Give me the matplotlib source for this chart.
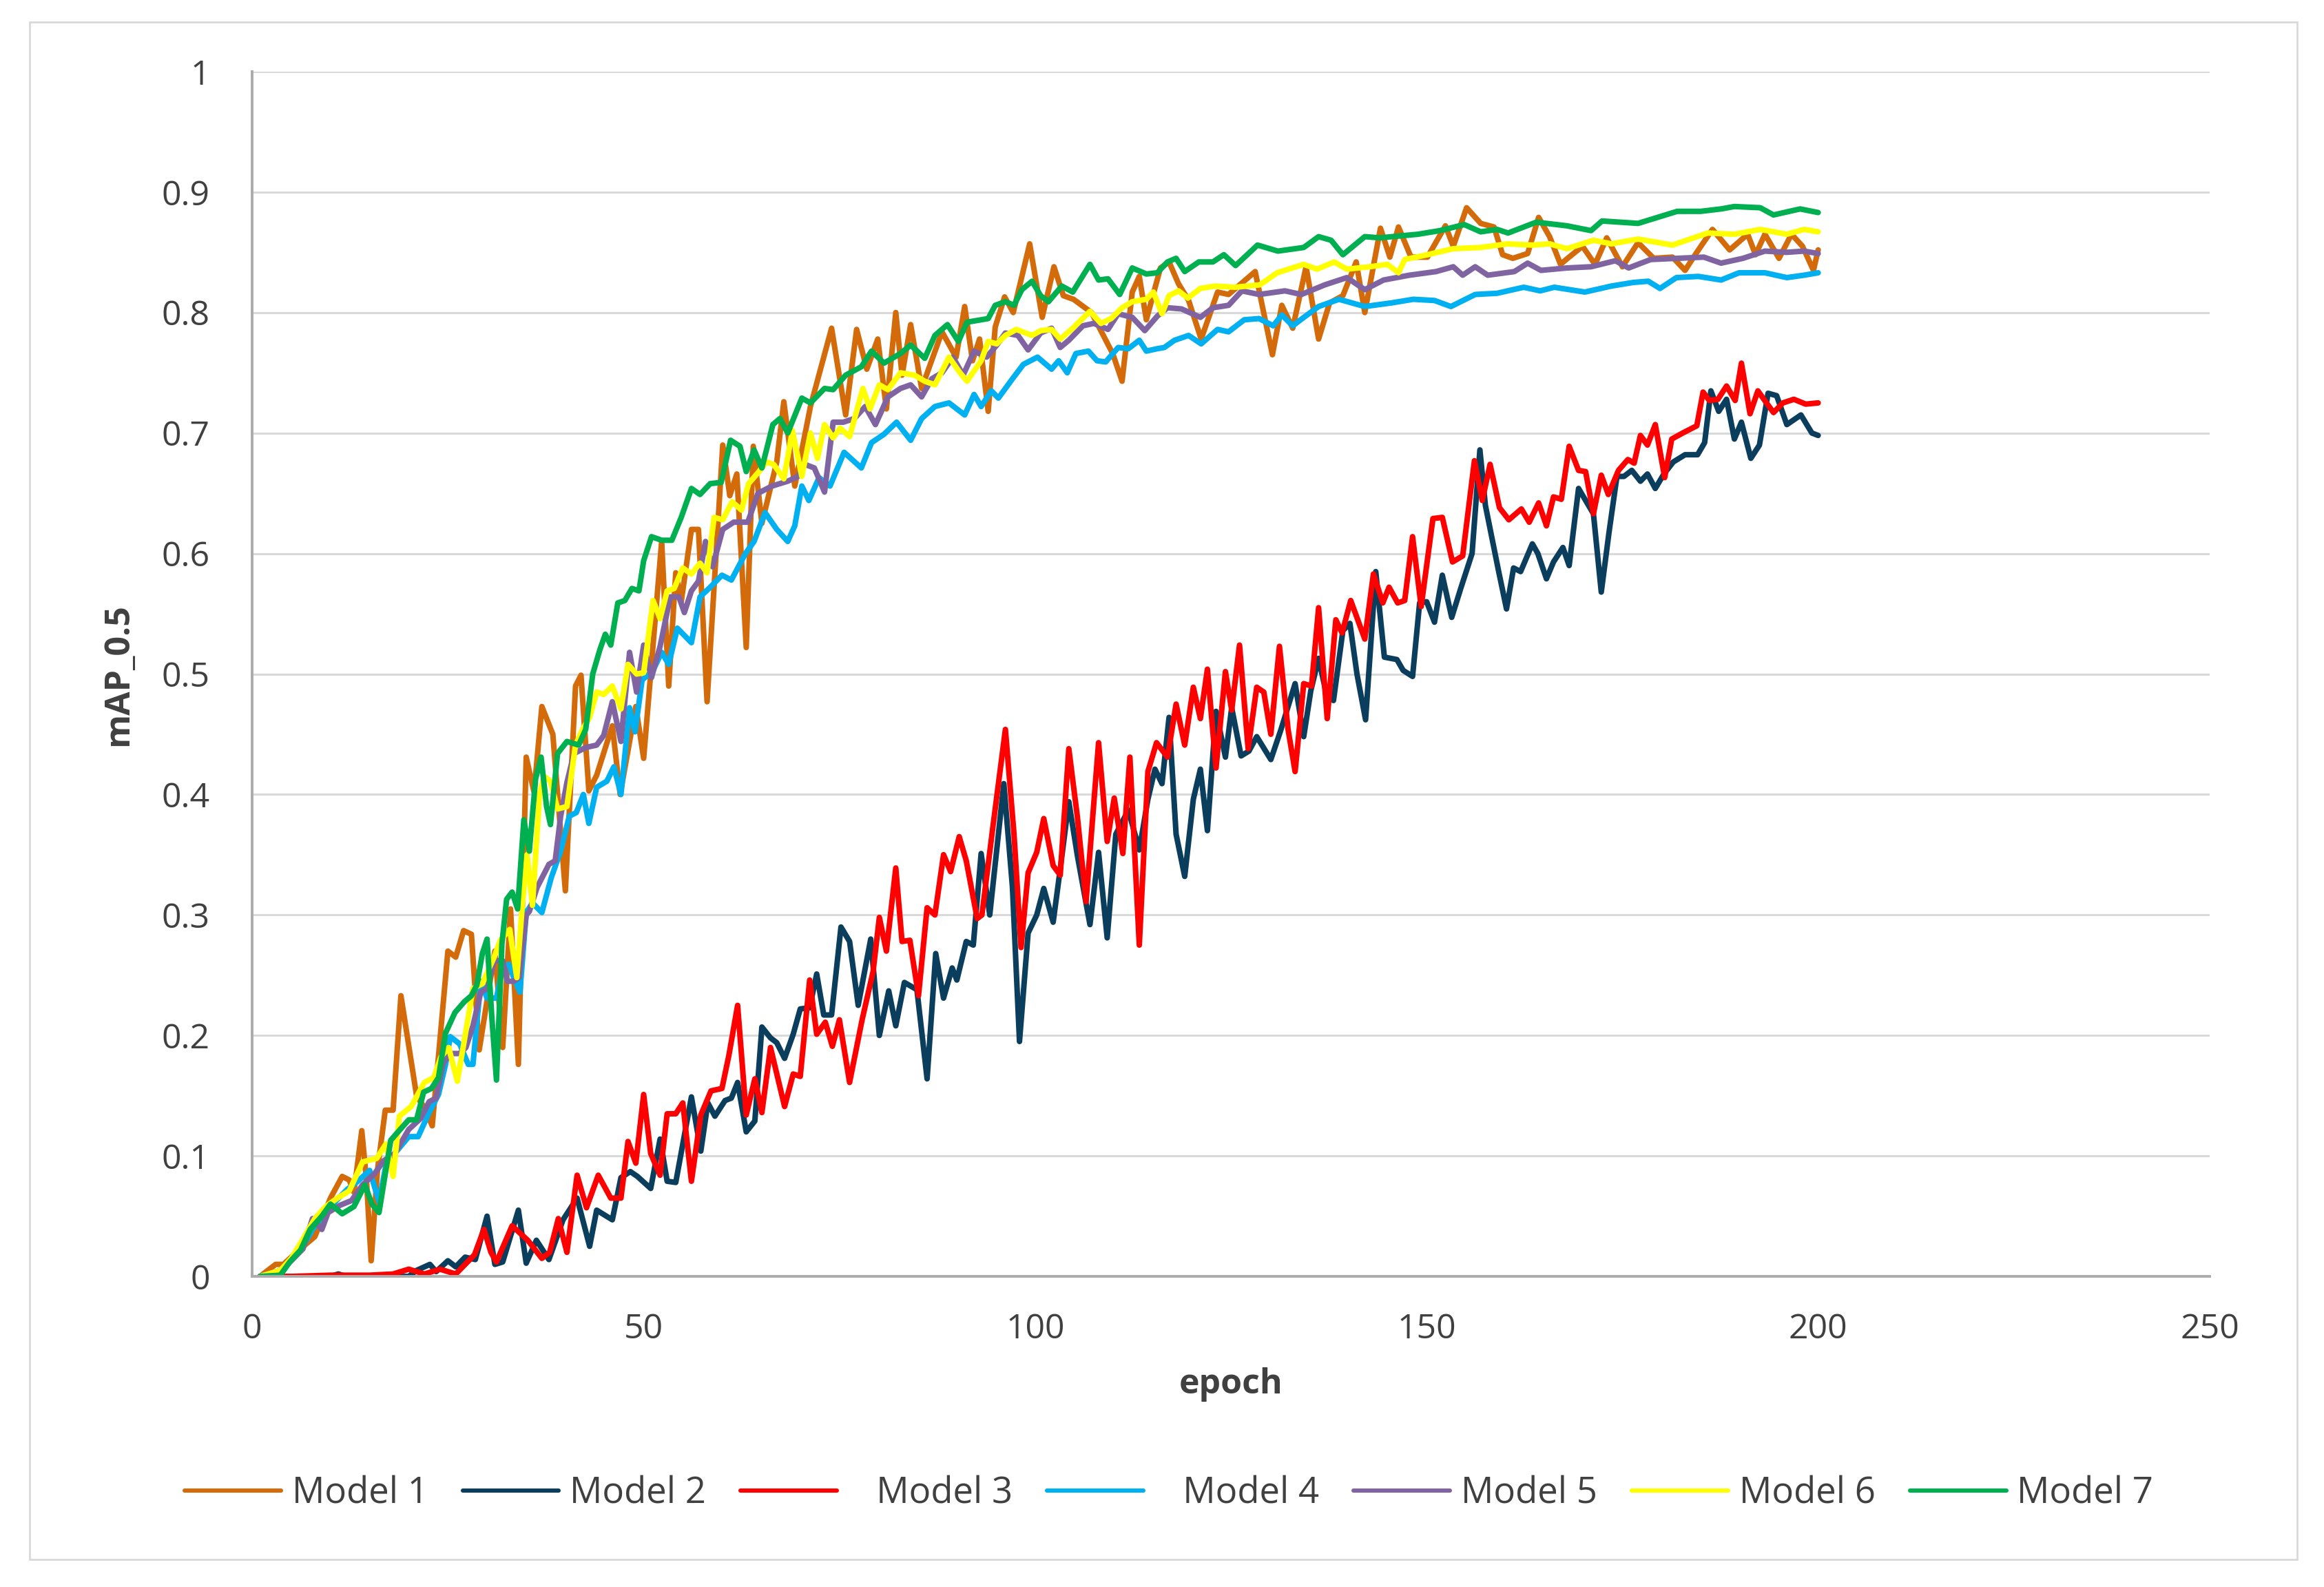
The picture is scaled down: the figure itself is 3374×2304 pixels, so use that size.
import matplotlib
matplotlib.use("Agg")
import matplotlib.pyplot as plt
from matplotlib.patches import Rectangle

# mAP_0.5 per epoch as (epoch, value) pairs
model1 = [(1, 0.0), (3, 0.01), (4, 0.01), (5, 0.016), (6, 0.022), (8, 0.033), (10, 0.065), (11.5, 0.083),
          (12.4, 0.08), (13, 0.07), (14, 0.121), (14.6, 0.08), (15.2, 0.013), (16, 0.088), (17, 0.138),
          (18, 0.138), (19, 0.233), (21, 0.15), (22, 0.14), (23, 0.125), (25, 0.27), (26, 0.265), (27, 0.287),
          (28, 0.284), (29, 0.188), (31, 0.27), (32, 0.19), (33, 0.305), (34, 0.176), (35, 0.431), (36, 0.402),
          (37, 0.473), (38.4, 0.45), (40, 0.32), (41.3, 0.49), (42, 0.499), (43, 0.403), (44, 0.416),
          (46, 0.457), (47, 0.40), (49, 0.473), (50, 0.43), (52.3, 0.61), (53.2, 0.49), (54.1, 0.584),
          (54.8, 0.56), (56.1, 0.62), (57, 0.62), (58.1, 0.477), (60.1, 0.69), (61, 0.648), (61.9, 0.666),
          (63.1, 0.522), (64, 0.689), (65.1, 0.625), (67, 0.676), (67.9, 0.726), (69.3, 0.656), (71.3, 0.722),
          (74, 0.787), (75.8, 0.715), (77.2, 0.786), (78.5, 0.753), (79.9, 0.778), (81, 0.72), (82.2, 0.80),
          (83, 0.748), (84.1, 0.79), (85.5, 0.737), (88.1, 0.784), (89.9, 0.763), (91, 0.805), (92, 0.76),
          (92.9, 0.778), (94, 0.718), (94.9, 0.788), (96.1, 0.813), (97.2, 0.80), (99.3, 0.857), (100.9, 0.796),
          (102.4, 0.838), (103.6, 0.814), (104.9, 0.811), (107.2, 0.80), (109.9, 0.766), (111.1, 0.743),
          (112.4, 0.817), (113.3, 0.83), (114.2, 0.794), (116, 0.837), (117.1, 0.842), (118.3, 0.824),
          (119.6, 0.81), (121.2, 0.778), (123.3, 0.817), (124.7, 0.815), (128.1, 0.834), (130.3, 0.765),
          (131.5, 0.806), (132.9, 0.787), (134.6, 0.838), (136.2, 0.778), (137.6, 0.808), (139.3, 0.814),
          (141, 0.842), (142.1, 0.80), (144.1, 0.87), (145.3, 0.846), (146.4, 0.871), (148, 0.846),
          (150.1, 0.846), (152.4, 0.872), (153.4, 0.855), (155.1, 0.887), (156.9, 0.874), (158.6, 0.871),
          (159.7, 0.848), (161, 0.845), (162.9, 0.849), (164.3, 0.879), (165.7, 0.863), (167.1, 0.84),
          (168, 0.845), (169.9, 0.855), (171.5, 0.84), (173, 0.862), (175, 0.838), (177, 0.858), (179, 0.845),
          (181.4, 0.846), (183, 0.835), (184.5, 0.85), (186.5, 0.869), (188.7, 0.852), (191, 0.865),
          (192, 0.848), (193.2, 0.865), (195, 0.845), (196.6, 0.865), (198, 0.855), (199.4, 0.835), (200, 0.852)]

model2 = [(1, 0.0), (10, 0.0), (11, 0.002), (12, 0.0), (20, 0.0), (21, 0.005), (22.7, 0.01), (23.5, 0.004),
          (25, 0.013), (26, 0.008), (27.2, 0.016), (28.5, 0.014), (30, 0.05), (31, 0.01), (32, 0.012),
          (34, 0.055), (35, 0.011), (36.3, 0.03), (37.9, 0.014), (39.7, 0.047), (41.5, 0.065), (43.1, 0.025),
          (44, 0.055), (46, 0.047), (47.1, 0.082), (48.3, 0.087), (49.2, 0.083), (50.9, 0.073), (52.1, 0.114),
          (53, 0.079), (54.1, 0.078), (56.1, 0.149), (57.3, 0.104), (58.2, 0.144), (59.1, 0.133), (60.4, 0.146),
          (61.2, 0.148), (62, 0.161), (63.1, 0.12), (64.2, 0.129), (65.1, 0.207), (66.2, 0.198), (67, 0.194),
          (68, 0.181), (69.1, 0.201), (70, 0.222), (71.2, 0.223), (72.1, 0.251), (73, 0.217), (74, 0.217),
          (75.2, 0.29), (76.3, 0.278), (77.4, 0.225), (79, 0.28), (80.1, 0.20), (81.3, 0.237), (82.2, 0.208),
          (83.3, 0.244), (84.9, 0.238), (86.2, 0.164), (87.3, 0.268), (88.3, 0.231), (89.4, 0.256), (90, 0.246),
          (91.2, 0.278), (92.1, 0.275), (93.1, 0.351), (94.2, 0.30), (96, 0.409), (97.1, 0.323), (98, 0.195),
          (99.1, 0.285), (100.2, 0.30), (101.1, 0.322), (102.3, 0.294), (103.2, 0.338), (104.3, 0.394),
          (105.4, 0.349), (107, 0.292), (108.1, 0.352), (109.2, 0.281), (110.3, 0.367), (111.9, 0.387),
          (113.3, 0.354), (114.4, 0.396), (115.3, 0.421), (116.2, 0.409), (117.1, 0.464), (118, 0.367),
          (119.1, 0.332), (120.2, 0.396), (121.1, 0.421), (122, 0.37), (123.1, 0.469), (124.3, 0.431),
          (125.1, 0.472), (126.3, 0.432), (127.3, 0.436), (128.3, 0.448), (130.1, 0.429), (131.4, 0.454),
          (133.2, 0.492), (134.3, 0.448), (135.2, 0.486), (136.2, 0.513), (137.1, 0.486), (138.1, 0.478),
          (139.3, 0.536), (140.2, 0.542), (141.1, 0.50), (142.2, 0.462), (143.5, 0.585), (144.6, 0.514),
          (146.2, 0.512), (147, 0.503), (148.2, 0.498), (149.1, 0.559), (150, 0.56), (151, 0.543), (152, 0.582),
          (153.2, 0.547), (154.4, 0.572), (155.8, 0.60), (156.8, 0.686), (157.5, 0.64), (159.2, 0.585),
          (160.2, 0.554), (161.1, 0.588), (162, 0.585), (163.5, 0.608), (164.2, 0.60), (165.3, 0.579),
          (166.2, 0.593), (167.4, 0.605), (168.2, 0.59), (169.4, 0.654), (170.3, 0.644), (171.3, 0.633),
          (172.3, 0.568), (173.3, 0.618), (174.3, 0.664), (175.2, 0.664), (176.2, 0.669), (177.3, 0.66),
          (178.2, 0.666), (179.2, 0.654), (180.3, 0.666), (181.5, 0.676), (183, 0.682), (184.6, 0.682),
          (185.5, 0.692), (186.3, 0.735), (187.3, 0.718), (188.3, 0.728), (189.3, 0.695), (190.2, 0.709),
          (191.4, 0.679), (192.5, 0.69), (193.6, 0.733), (194.7, 0.731), (196, 0.707), (197.8, 0.715),
          (199.2, 0.70), (200, 0.698)]

model3 = [(1, 0.0), (5, 0.0), (10, 0.001), (15, 0.001), (18, 0.002), (20, 0.006), (22, 0.002), (24, 0.006),
          (26, 0.002), (27.2, 0.01), (28.4, 0.018), (29.6, 0.039), (30.5, 0.02), (31.2, 0.012), (33.2, 0.042),
          (35.2, 0.03), (37, 0.015), (38, 0.02), (39.1, 0.048), (40.2, 0.02), (41.5, 0.084), (42.7, 0.057),
          (44.2, 0.084), (45.8, 0.065), (47.1, 0.065), (48, 0.112), (49, 0.094), (50, 0.151), (50.9, 0.102),
          (52.1, 0.084), (53, 0.135), (54.1, 0.135), (55, 0.144), (56.1, 0.079), (57.3, 0.134), (58.6, 0.154),
          (60, 0.156), (60.9, 0.184), (62, 0.225), (63.1, 0.134), (64.2, 0.164), (65.1, 0.136), (66.2, 0.19),
          (68, 0.141), (69.1, 0.168), (70, 0.166), (71.2, 0.246), (72.1, 0.201), (73.2, 0.211), (74.1, 0.191),
          (75, 0.213), (76.3, 0.161), (77.9, 0.213), (79.3, 0.253), (80.1, 0.298), (81, 0.27), (82.2, 0.339),
          (83, 0.278), (84, 0.279), (85.1, 0.233), (86.2, 0.306), (87.2, 0.30), (88.3, 0.35), (89.2, 0.336),
          (90.3, 0.365), (91.2, 0.345), (92.6, 0.297), (93.2, 0.30), (94.6, 0.373), (96.2, 0.454),
          (97.3, 0.367), (98.2, 0.273), (99.1, 0.335), (100.2, 0.352), (101.1, 0.38), (102.3, 0.341),
          (103.2, 0.333), (104.3, 0.438), (105.4, 0.381), (106.5, 0.311), (108.1, 0.443), (109.2, 0.361),
          (110.1, 0.397), (111.2, 0.351), (112.1, 0.431), (113.3, 0.275), (114.4, 0.419), (115.5, 0.443),
          (116.9, 0.431), (118, 0.475), (119.1, 0.441), (120.2, 0.489), (121.1, 0.463), (122, 0.504),
          (123.1, 0.422), (124.3, 0.502), (125.1, 0.47), (126.1, 0.524), (127.2, 0.438), (128.3, 0.489),
          (129.2, 0.485), (130.1, 0.45), (131.2, 0.523), (132.3, 0.454), (133.2, 0.419), (134.3, 0.492),
          (135.3, 0.49), (136.2, 0.555), (137.3, 0.463), (138.4, 0.545), (139.2, 0.534), (140.3, 0.561),
          (142.1, 0.529), (143.2, 0.583), (144.4, 0.559), (145.2, 0.572), (146.3, 0.559), (147.2, 0.561),
          (148.2, 0.614), (149.3, 0.556), (150.8, 0.629), (152, 0.63), (153.3, 0.593), (154.6, 0.598),
          (156.1, 0.677), (157.1, 0.644), (158.1, 0.674), (159.3, 0.638), (160.5, 0.628), (162.1, 0.637),
          (163.1, 0.626), (164.3, 0.642), (165.3, 0.623), (166.2, 0.647), (167.2, 0.645), (168.2, 0.689),
          (169.4, 0.669), (170.3, 0.668), (171.3, 0.633), (172.3, 0.665), (173.2, 0.649), (174.5, 0.669),
          (175.7, 0.678), (176.5, 0.675), (177.3, 0.698), (178.2, 0.69), (179.2, 0.707), (180.4, 0.663),
          (181.3, 0.695), (182.7, 0.70), (184.5, 0.706), (185.3, 0.734), (186.1, 0.727), (187.2, 0.728),
          (188.3, 0.739), (189.4, 0.727), (190.2, 0.758), (191.3, 0.716), (192.3, 0.735), (193.4, 0.725),
          (194.3, 0.717), (195.5, 0.725), (196.9, 0.728), (198.4, 0.724), (200, 0.725)]

model4 = [(1, 0.0), (3.6, 0.005), (5.3, 0.016), (6.5, 0.025), (7.7, 0.039), (9.4, 0.053), (10.6, 0.062),
          (12.1, 0.072), (13.5, 0.079), (15, 0.088), (16.2, 0.062), (17.1, 0.093), (18.2, 0.102), (20, 0.116),
          (21.2, 0.116), (22.6, 0.136), (23.8, 0.151), (24.7, 0.176), (25.3, 0.199), (26.5, 0.193),
          (27.6, 0.176), (28.2, 0.176), (29.2, 0.245), (30, 0.231), (31.2, 0.231), (32, 0.257), (32.8, 0.259),
          (33.4, 0.248), (34.2, 0.236), (35, 0.302), (35.8, 0.31), (37, 0.302), (38.2, 0.331), (39.4, 0.353),
          (40.5, 0.382), (41.4, 0.385), (42.3, 0.40), (43, 0.376), (44, 0.406), (45.3, 0.411), (46.2, 0.423),
          (47.1, 0.40), (48.2, 0.472), (48.9, 0.452), (49.8, 0.495), (51.2, 0.503), (52.3, 0.518),
          (53.2, 0.508), (54.3, 0.538), (56.1, 0.526), (57.2, 0.564), (58.5, 0.572), (60, 0.582), (61.2, 0.578),
          (63, 0.60), (64.1, 0.61), (65.5, 0.634), (67, 0.62), (68.4, 0.61), (69.3, 0.623), (70.2, 0.656),
          (71.1, 0.644), (72.4, 0.663), (73.8, 0.656), (75.6, 0.684), (77.8, 0.671), (79.1, 0.692),
          (80.7, 0.699), (82.3, 0.709), (84.1, 0.694), (85.5, 0.712), (87.2, 0.722), (89, 0.725), (91, 0.715),
          (92.2, 0.732), (93.1, 0.722), (94.4, 0.735), (95.3, 0.729), (97.1, 0.745), (98.5, 0.757),
          (100.3, 0.763), (102.1, 0.753), (103, 0.76), (104.1, 0.75), (105.2, 0.766), (106.8, 0.768),
          (107.9, 0.76), (109, 0.759), (110.6, 0.771), (111.9, 0.77), (113.3, 0.777), (114.2, 0.768),
          (115.6, 0.77), (116.5, 0.771), (117.8, 0.777), (119.6, 0.781), (121.2, 0.774), (123.3, 0.786),
          (124.7, 0.784), (126.7, 0.794), (128.6, 0.795), (130.4, 0.789), (131.5, 0.798), (132.9, 0.789),
          (133.9, 0.794), (136.2, 0.805), (138.8, 0.811), (142.1, 0.805), (145.5, 0.808), (148.3, 0.811),
          (151, 0.81), (153.1, 0.805), (156.2, 0.815), (159, 0.816), (162.4, 0.821), (164.5, 0.818),
          (166.3, 0.821), (170.2, 0.817), (173.6, 0.822), (176.4, 0.825), (178.3, 0.826), (179.8, 0.82),
          (181.9, 0.829), (184.7, 0.83), (187.6, 0.827), (189.9, 0.833), (193.2, 0.833), (196, 0.829),
          (198.2, 0.831), (200, 0.833)]

model5 = [(1, 0.0), (3.6, 0.004), (5.3, 0.015), (6.5, 0.023), (7.7, 0.048), (8.9, 0.039), (9.7, 0.053),
          (11.2, 0.059), (12.7, 0.063), (14.1, 0.076), (15.6, 0.085), (16.8, 0.096), (18.2, 0.102), (20, 0.122),
          (21.5, 0.131), (22.6, 0.145), (23.5, 0.148), (24.4, 0.177), (25.3, 0.185), (26.5, 0.185),
          (27.3, 0.19), (28.2, 0.208), (29.2, 0.236), (30, 0.239), (30.9, 0.262), (32, 0.262), (32.6, 0.245),
          (33.4, 0.245), (34.1, 0.248), (35, 0.30), (35.4, 0.303), (36.4, 0.323), (37.9, 0.342), (38.7, 0.345),
          (39.4, 0.382), (40.2, 0.41), (41.1, 0.434), (42.6, 0.439), (44, 0.441), (44.9, 0.449), (46, 0.477),
          (47.1, 0.444), (48.2, 0.518), (49.1, 0.485), (50, 0.524), (51, 0.497), (52.1, 0.523), (53.4, 0.564),
          (54.5, 0.564), (55.2, 0.551), (56.1, 0.569), (57, 0.577), (57.9, 0.61), (58.8, 0.589), (60.1, 0.62),
          (61.5, 0.626), (63.3, 0.626), (64.6, 0.65), (66.4, 0.656), (68.4, 0.66), (69.7, 0.664), (70.6, 0.674),
          (71.8, 0.671), (73.1, 0.651), (74.2, 0.709), (75.5, 0.709), (76.9, 0.712), (78.3, 0.722),
          (79.6, 0.707), (81.2, 0.73), (82.8, 0.737), (84.1, 0.74), (85.5, 0.73), (86.8, 0.745), (88.1, 0.75),
          (89.5, 0.763), (90.8, 0.748), (92.2, 0.768), (93.8, 0.763), (95.1, 0.773), (96.2, 0.783),
          (97.8, 0.781), (99.1, 0.769), (100.7, 0.783), (102.1, 0.787), (103.2, 0.771), (104.3, 0.777),
          (106.1, 0.789), (107.5, 0.791), (109.3, 0.786), (110.6, 0.799), (112.4, 0.796), (114, 0.785),
          (115.6, 0.797), (116.9, 0.804), (118.7, 0.803), (121.1, 0.796), (122.7, 0.804), (124.7, 0.806),
          (126.4, 0.818), (128.6, 0.815), (131.9, 0.818), (134, 0.815), (137, 0.823), (139.8, 0.829),
          (142.1, 0.819), (144.5, 0.827), (147.8, 0.831), (151.2, 0.834), (153.4, 0.838), (154.6, 0.831),
          (156.2, 0.838), (157.8, 0.831), (161.2, 0.834), (162.9, 0.841), (164.6, 0.835), (167.9, 0.837),
          (171, 0.838), (174.1, 0.843), (175.8, 0.837), (178.6, 0.844), (182, 0.845), (185.4, 0.846),
          (187.6, 0.841), (190.4, 0.845), (193.2, 0.851), (196, 0.85), (198.2, 0.851), (200, 0.849)]

model6 = [(1, 0.0), (3.6, 0.005), (5, 0.015), (6.5, 0.031), (8, 0.048), (9.4, 0.058), (10.9, 0.065),
          (12.4, 0.071), (14.1, 0.095), (15.9, 0.098), (17.1, 0.11), (18, 0.083), (18.8, 0.133), (20.3, 0.141),
          (22, 0.161), (23.2, 0.165), (24.1, 0.182), (25.1, 0.19), (26.2, 0.162), (27.1, 0.196), (28.2, 0.239),
          (29.4, 0.243), (30.9, 0.265), (31.7, 0.279), (32.9, 0.288), (33.8, 0.248), (34.5, 0.308),
          (35.1, 0.35), (35.8, 0.308), (36.7, 0.40), (37.3, 0.415), (38.1, 0.411), (39, 0.388), (40.2, 0.39),
          (41.3, 0.441), (42.2, 0.454), (43.1, 0.464), (44, 0.485), (44.9, 0.483), (46, 0.49), (47.1, 0.471),
          (48, 0.508), (49.1, 0.50), (50, 0.501), (51.2, 0.561), (52.1, 0.546), (53, 0.569), (53.9, 0.571),
          (55, 0.588), (56.1, 0.583), (57.2, 0.592), (58.1, 0.584), (59, 0.63), (60.1, 0.628), (61.3, 0.643),
          (62.5, 0.636), (63.4, 0.658), (64.6, 0.667), (65.7, 0.676), (66.6, 0.674), (67.9, 0.662), (69, 0.702),
          (70.2, 0.664), (71.3, 0.70), (72.2, 0.679), (73.1, 0.707), (74.2, 0.696), (75.1, 0.704),
          (76.3, 0.697), (78, 0.737), (78.9, 0.72), (80.1, 0.74), (81.2, 0.736), (82.8, 0.75), (84.6, 0.748),
          (85.9, 0.743), (87.2, 0.74), (89, 0.763), (90.4, 0.75), (91.3, 0.743), (93.1, 0.76), (94, 0.776),
          (95.1, 0.774), (96.2, 0.781), (97.6, 0.786), (99.6, 0.781), (100.7, 0.785), (102.1, 0.786),
          (103.2, 0.778), (104.8, 0.787), (107, 0.801), (108.4, 0.791), (109.7, 0.795), (111.1, 0.804),
          (112.4, 0.809), (114.2, 0.811), (115.1, 0.817), (116.2, 0.799), (117.1, 0.814), (118.3, 0.818),
          (119.5, 0.812), (121.1, 0.82), (123, 0.822), (125.5, 0.821), (128.7, 0.823), (130.9, 0.833),
          (134.3, 0.84), (136, 0.836), (138.2, 0.842), (139.8, 0.836), (142.7, 0.838), (145, 0.84),
          (146.4, 0.833), (147.2, 0.844), (150.1, 0.848), (153.4, 0.853), (156.9, 0.854), (160.3, 0.857),
          (163.5, 0.856), (165.7, 0.857), (167.9, 0.853), (171.3, 0.86), (173.6, 0.857), (177, 0.861),
          (181.4, 0.856), (185.9, 0.866), (189.3, 0.865), (192.6, 0.869), (196, 0.865), (198.2, 0.869),
          (200, 0.867)]

model7 = [(1, 0.0), (3.6, 0.001), (4.8, 0.012), (6.2, 0.022), (7.4, 0.039), (8.9, 0.05), (10, 0.06),
          (11.5, 0.052), (13, 0.058), (14.4, 0.076), (15.3, 0.06), (16.2, 0.053), (17.7, 0.113), (18.5, 0.119),
          (20, 0.13), (21, 0.13), (21.9, 0.153), (22.9, 0.156), (23.8, 0.165), (24.7, 0.202), (25.9, 0.219),
          (27.1, 0.228), (28, 0.233), (28.7, 0.242), (29.4, 0.268), (30, 0.28), (30.6, 0.216), (31.2, 0.163),
          (31.9, 0.276), (32.5, 0.313), (33.2, 0.319), (33.9, 0.305), (34.7, 0.379), (35.4, 0.353),
          (36.2, 0.413), (36.9, 0.431), (37.6, 0.39), (38.1, 0.375), (39, 0.434), (40.2, 0.444), (41.7, 0.441),
          (42.6, 0.454), (43.5, 0.50), (44.4, 0.52), (45.1, 0.533), (45.8, 0.524), (46.7, 0.559), (47.6, 0.561),
          (48.5, 0.571), (49.4, 0.569), (50, 0.594), (51, 0.614), (52.3, 0.611), (53.6, 0.611), (54.8, 0.63),
          (56.1, 0.654), (57.2, 0.649), (58.5, 0.658), (59.9, 0.659), (61.1, 0.694), (62.3, 0.689),
          (63.1, 0.668), (64.1, 0.686), (65.1, 0.671), (66.5, 0.707), (67.4, 0.712), (68.4, 0.70), (70.2, 0.729),
          (71.3, 0.725), (73.1, 0.737), (74.2, 0.736), (75.8, 0.748), (77.8, 0.755), (79.1, 0.768),
          (80.7, 0.758), (82.8, 0.766), (84.1, 0.773), (85.9, 0.762), (87.2, 0.781), (88.8, 0.79), (90.2, 0.776),
          (91.3, 0.792), (94, 0.795), (94.9, 0.806), (96.2, 0.809), (97.3, 0.806), (98.3, 0.819), (99.6, 0.826),
          (100.7, 0.814), (101.7, 0.809), (103.4, 0.822), (104.8, 0.817), (107, 0.84), (108.1, 0.827),
          (109.3, 0.828), (110.8, 0.815), (112.4, 0.837), (114.2, 0.832), (115.6, 0.833), (116.9, 0.842),
          (118, 0.845), (119.1, 0.834), (120.9, 0.842), (122.7, 0.842), (124.1, 0.848), (125.6, 0.839),
          (128.4, 0.856), (131, 0.851), (134.3, 0.854), (136.2, 0.863), (137.8, 0.86), (139.3, 0.848),
          (142.1, 0.863), (144, 0.862), (148.9, 0.865), (151.7, 0.868), (154.8, 0.873), (156.9, 0.867),
          (159, 0.869), (160.4, 0.866), (164, 0.875), (167.9, 0.872), (171, 0.868), (172.4, 0.876), (177, 0.874),
          (182, 0.884), (185, 0.884), (187.6, 0.886), (189.3, 0.888), (192.6, 0.887), (194.3, 0.881),
          (197.7, 0.886), (200, 0.883)]

series = [model1, model2, model3, model4, model5, model6, model7]
labels = ["Model 1", "Model 2", "   Model 3", "   Model 4", "Model 5", "Model 6", "Model 7"]
colors = ["#D36B0A", "#0B3D5C", "#FF0000", "#00B0F0", "#8064A2", "#FFFF00", "#00B050"]

plt.rcParams['font.family'] = ['Open Sans', 'DejaVu Sans']

fig = plt.figure(figsize=(16.87, 11.52), dpi=200)
ax = fig.add_axes([0.1085, 0.1957, 0.8423, 0.7592])

for data, label, color in zip(series, labels, colors):
    x = [p[0] for p in data]
    y = [p[1] for p in data]
    ax.plot(x, y, color=color, lw=2.9, label=label, solid_joinstyle='round', solid_capstyle='round')

ax.set_xlim(0, 250)
ax.set_ylim(0, 1)
ax.set_xticks(range(0, 251, 50))
ax.set_yticks([i / 10 for i in range(11)])
ax.set_yticklabels(["0"] + ["0.%d" % i for i in range(1, 10)] + ["1"])
ax.grid(axis='y', color='#D9D9D9', lw=1.1)
ax.set_axisbelow(True)
for side in ['top', 'right']:
    ax.spines[side].set_visible(False)
for side in ['left', 'bottom']:
    ax.spines[side].set_color('#ABABAB')
    ax.spines[side].set_linewidth(1.4)
ax.tick_params(axis='both', length=0, labelsize=18, labelcolor='#404040')
ax.tick_params(axis='y', pad=22)
ax.tick_params(axis='x', pad=19)

fig.text(0.5296, 0.1276, "epoch", ha='center', va='center', fontsize=18, fontweight='bold', color='#404040')
fig.text(0.051, 0.575, "mAP_0.5", ha='center', va='center', rotation=90, fontsize=18,
         fontweight='bold', color='#404040')

leg = fig.legend(loc='center', bbox_to_anchor=(0.503, 0.0586), ncol=7, frameon=False, fontsize=19,
                 handlelength=2.65, handletextpad=0.3, columnspacing=0.95, labelcolor='#404040')
for line in leg.get_lines():
    line.set_linewidth(2.2)

fig.patches.append(Rectangle((0.0127, 0.0174), 0.9757, 0.9686, transform=fig.transFigure,
                             fill=False, edgecolor='#D9D9D9', lw=1.0))

fig.savefig("out.png", dpi=200)
